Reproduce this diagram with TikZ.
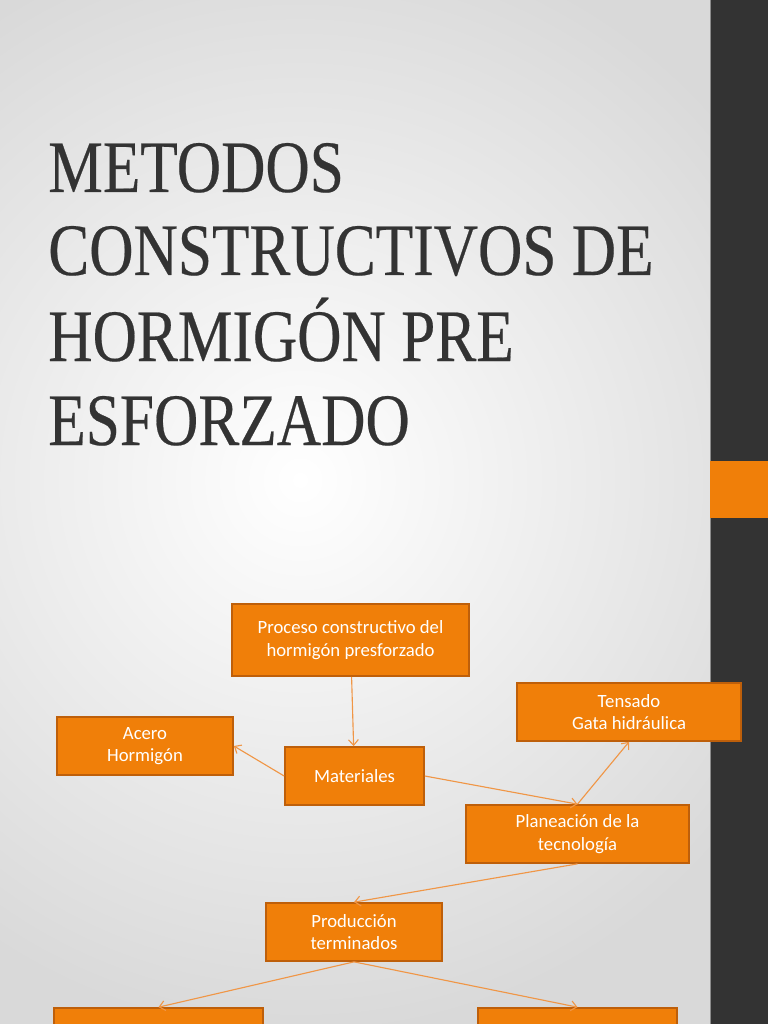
\documentclass[tikz,border=0pt]{standalone}
\usepackage{fontspec}
\usetikzlibrary{arrows.meta}
\newfontfamily\titlefont[FakeStretch=0.83,FakeBold=0.3]{Liberation Serif}
\newfontfamily\boxfont{Carlito}
\definecolor{naranja}{RGB}{240,127,9}
\definecolor{naranjaborde}{RGB}{190,95,10}
\definecolor{flecha}{RGB}{240,150,70}
\definecolor{oscuro}{RGB}{51,51,51}

\begin{document}
\begin{tikzpicture}[x=0.025cm, y=-0.025cm,
    caja/.style = {draw=naranjaborde, fill=naranja, line width=1.2pt, text=white, align=center,
                   minimum height=1.45cm, inner sep=2pt, font=\boxfont\fontsize{13.3}{16}\selectfont},
    titulo/.style = {anchor=base west, inner sep=0pt, text=oscuro, font=\titlefont\fontsize{52.6}{60}\selectfont},
    conector/.style = {draw=flecha, line width=0.8pt, -{Straight Barb[length=4pt,width=7pt]}}]
			\useasboundingbox (0, 0) rectangle (768, 1024);
			\clip (0, 0) rectangle (768, 1024);
			\fill[black!15] (0, 0) rectangle (768, 1024);
			\shade[inner color=white, outer color=black!15] (-260, -80) rectangle (860, 1040);
			\fill[oscuro] (710, 0) rectangle (768, 1024);
			\draw[black!45, line width=0.6pt] (710, 0) -- (710, 1024);
			\fill[naranja] (710, 461) rectangle (768, 518);
			\node (t1) at (48, 192) [titulo] {METODOS};
			\node (t2) at (48, 275) [titulo] {CONSTRUCTIVOS DE};
			\node (t3) at (48, 361) [titulo] {HORMIGÓN PRE};
			\node (t4) at (48, 445) [titulo] {ESFORZADO};
			\node (proc) at (350.5, 640) [caja, minimum width=5.925cm, minimum height=1.8cm] {Proceso constructivo del\\hormigón presforzado};
			\node (tens) at (629, 712) [caja, minimum width=5.6cm] {Tensado\\Gata hidráulica};
			\node (acero) at (145, 746) [caja, minimum width=4.4cm] {Acero\\Hormigón};
			\node (mat) at (354.5, 776) [caja, minimum width=3.475cm] {Materiales};
			\node (plan) at (577.5, 834) [caja, minimum width=5.575cm] {Planeación de la\\tecnología};
			\node (prod) at (354, 932) [caja, minimum width=4.4cm] {Producción\\terminados};
			\node (izq) at (158.5, 1037) [caja, minimum width=5.225cm] {};
			\node (der) at (577.5, 1037) [caja, minimum width=4.975cm] {};
			\draw[conector] (proc) -- (mat);
			\draw[conector] (mat.west) -- (acero.east);
			\draw[conector] (mat.east) -- (plan.north);
			\draw[conector] (plan.north) -- (tens.south);
			\draw[conector] (plan.south) -- (prod.north);
			\draw[conector] (prod.south) -- (izq.north);
			\draw[conector] (prod.south) -- (der.north);
		\end{tikzpicture}
\end{document}
